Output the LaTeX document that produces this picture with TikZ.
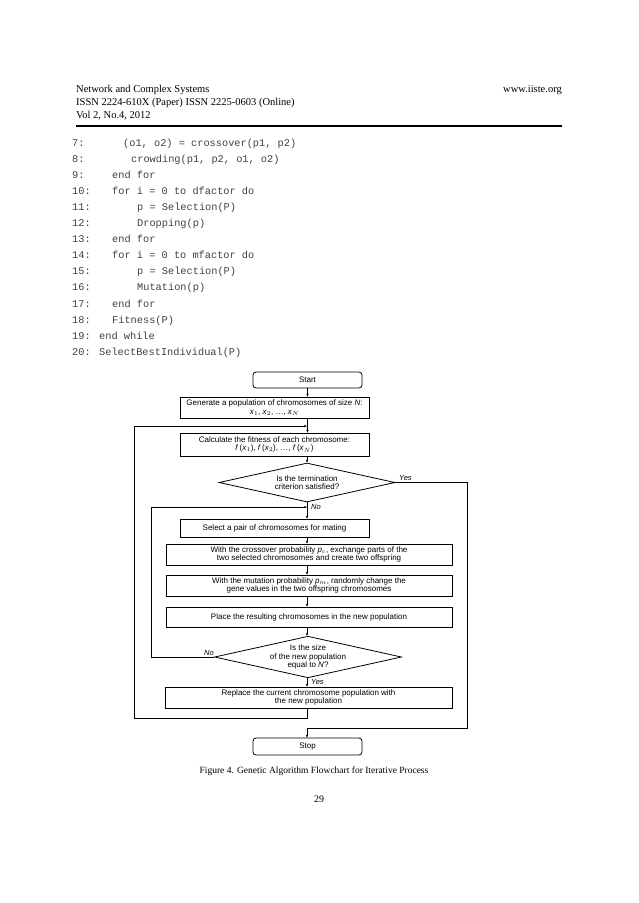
\documentclass[tikz,border=0pt]{standalone}
\usepackage{fontspec}
\setmainfont{Liberation Serif}
\newfontfamily\fcsans{Liberation Sans}
\newfontfamily\fcmono{Liberation Mono}
\usetikzlibrary{arrows.meta,shapes.geometric}
\begin{document}
\begin{tikzpicture}[x=1pt,y=-1pt,
  hdr/.style={anchor=west,inner sep=0pt,font=\fontsize{10.5}{12}\selectfont},
  code/.style={anchor=base west,inner sep=0pt,text=black!75,font=\fcmono\fontsize{10.3}{12}\selectfont},
  box/.style={draw,thick,inner sep=0pt,font=\fcsans\fontsize{8}{8.6}\selectfont,align=center},
  term/.style={box,rounded corners=3pt},
  dia/.style={draw,thick,diamond,aspect=4.5,inner sep=0pt,font=\fcsans\fontsize{8}{8.6}\selectfont,align=center},
  lab/.style={inner sep=1pt,font=\fcsans\itshape\fontsize{7.5}{8}\selectfont},
  line/.style={thick},
  arr/.style={thick,-{Stealth[length=3pt,width=2.5pt]}}]
\useasboundingbox (0,0) rectangle (638,903);
% header
\node[hdr] (h1) at (76,90) {Network and Complex Systems};
\node[hdr,anchor=east] (h0) at (562,90) {www.iiste.org};
\node[hdr] (h2) at (76,103) {ISSN 2224-610X (Paper) ISSN 2225-0603 (Online)};
\node[hdr] (h3) at (76,116) {Vol 2, No.4, 2012};
\draw[line width=1.1pt] (76,126) -- (562,126);
% code
\foreach \n/\x/\t [count=\i from 0] in {7:/123/{(o1, o2) = crossover(p1, p2)},8:/131/{crowding(p1, p2, o1, o2)},9:/112/{end for},10:/112/{for i = 0 to dfactor do},11:/137/{p = Selection(P)},12:/137/{Dropping(p)},13:/112/{end for},14:/112/{for i = 0 to mfactor do},15:/137/{p = Selection(P)},16:/137/{Mutation(p)},17:/112/{end for},18:/112/{Fitness(P)},19:/99/{end while},20:/99/{SelectBestIndividual(P)}}{
  \node[code] (n\i) at (72,146+16.1*\i) {\n};
  \node[code] (c\i) at (\x,146+16.1*\i) {\t};
}
% flowchart
\node[term,minimum width=109,minimum height=16] (start) at (307.5,380) {Start};
\node[box,minimum width=189,minimum height=21] (gen) at (274.5,407.5) {Generate a population of chromosomes of size \textit{N}:\\ \textit{x}$_1$, \textit{x}$_2$, \dots, \textit{x}$_N$};
\node[box,minimum width=189,minimum height=23] (fit) at (274.5,444.5) {Calculate the fitness of each chromosome:\\ \textit{f}\,(\textit{x}$_1$), \textit{f}\,(\textit{x}$_2$), \dots, \textit{f}\,(\textit{x}$_N$)};
\node[dia,minimum width=176,minimum height=39] (d1) at (307,482.5) {Is the termination\\ criterion satisfied?};
\node[box,minimum width=189,minimum height=18] (sel) at (274.5,528) {Select a pair of chromosomes for mating};
\node[box,minimum width=286,minimum height=21] (cro) at (309,554.5) {With the crossover probability \textit{p}$_c$, exchange parts of the\\ two selected chromosomes and create two offspring};
\node[box,minimum width=286,minimum height=21] (mut) at (309,585.5) {With the mutation probability \textit{p}$_m$, randomly change the\\ gene values in the two offspring chromosomes};
\node[box,minimum width=286,minimum height=20] (pla) at (309,617) {Place the resulting chromosomes in the new population};
\node[dia,minimum width=178,minimum height=40] (d2) at (308,657) {Is the size\\ of the new population\\ equal to \textit{N}?};
\node[box,minimum width=287,minimum height=21] (rep) at (308.5,697.5) {Replace the current chromosome population with\\ the new population};
\node[term,minimum width=109,minimum height=17] (stop) at (307.5,746.5) {Stop};
\coordinate (j1) at (307,426);
\coordinate (j2) at (307,507);
\coordinate (j3) at (307,728);
\draw[arr] (start) -- (gen.north -| start);
\draw[arr] (gen.south -| start) -- (fit.north -| start);
\draw[arr] (fit.south -| d1) -- (d1);
\draw[arr] (d1) -- (sel.north -| d1);
\draw[arr] (sel.south -| d1) -- (cro.north -| d1);
\draw[arr] (cro.south -| d1) -- (mut.north -| d1);
\draw[arr] (mut.south -| d1) -- (pla.north -| d1);
\draw[arr] (pla.south -| d1) -- (d2.north -| d1);
\draw[arr] (d2.south -| d1) -- (rep.north -| d1);
\draw[arr] (d1.east) -- (467,482.5) -- (467,728) -- (j3) -- (stop.north -| j3);
\draw[arr] (d2.west) -- (151,657) -- (151,507) -- (j2);
\draw[arr] (rep.south -| j1) -- (307,718) -- (134,718) -- (134,426) -- (j1);
\node[lab,anchor=south west] (yes1) at (398,482) {Yes};
\node[lab,anchor=west] (no1) at (310,507) {No};
\node[lab,anchor=south] (no2) at (209,657) {No};
\node[lab,anchor=west] (yes2) at (310,682) {Yes};
% caption
\node[inner sep=0pt,font=\fontsize{9.5}{11}\selectfont] (cap) at (314,771) {Figure 4. Genetic Algorithm Flowchart for Iterative Process};
\node[inner sep=0pt,font=\fontsize{10}{12}\selectfont] (pg) at (319,799) {29};
\end{tikzpicture}
\end{document}
